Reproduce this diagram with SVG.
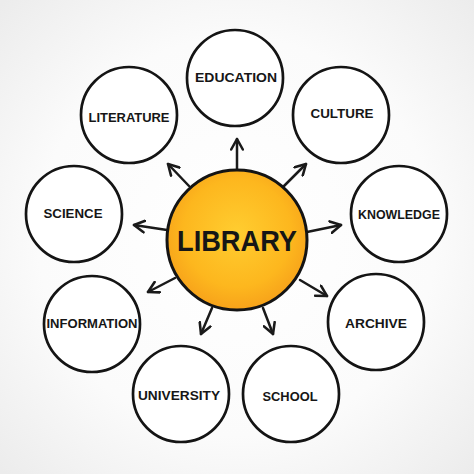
<svg xmlns="http://www.w3.org/2000/svg" width="474" height="474" viewBox="0 0 474 474">
<defs>
<radialGradient id="bg" cx="50%" cy="50%" r="70%">
<stop offset="0" stop-color="#ffffff"/>
<stop offset="0.6" stop-color="#fbfbfb"/>
<stop offset="1" stop-color="#ececec"/>
</radialGradient>
<radialGradient id="orange" cx="50%" cy="45%" r="55%">
<stop offset="0" stop-color="#ffcd30"/>
<stop offset="0.7" stop-color="#fdb71e"/>
<stop offset="1" stop-color="#f7a21a"/>
</radialGradient>
<marker id="arr" viewBox="0 0 12 12" refX="10" refY="6" markerWidth="14" markerHeight="14" markerUnits="userSpaceOnUse" orient="auto">
<polyline points="1,1 10,6 1,11" fill="none" stroke="#1a1a1a" stroke-width="2.2" stroke-linecap="round" stroke-linejoin="round"/>
</marker>
<style>
.node{fill:#ffffff;stroke:#141414;stroke-width:2.7}
.lbl{font-family:"Liberation Sans",Arial,sans-serif;font-weight:bold;font-size:13px;fill:#161616;text-anchor:middle}
.conn line{stroke:#1a1a1a;stroke-width:2.5;stroke-linecap:round;marker-end:url(#arr)}
</style>
</defs>
<rect width="474" height="474" fill="url(#bg)"/>
<g id="connectors" class="conn">
<line x1="237" y1="170" x2="237" y2="139"/>
<line x1="189" y1="186" x2="168" y2="164"/>
<line x1="284" y1="186" x2="306" y2="164"/>
<line x1="167" y1="230" x2="134" y2="225"/>
<line x1="307" y1="232" x2="341" y2="225"/>
<line x1="175" y1="278" x2="148" y2="292"/>
<line x1="300" y1="280" x2="327" y2="296"/>
<line x1="212" y1="308" x2="201" y2="334"/>
<line x1="263" y1="308" x2="273" y2="334"/>
</g>
<g id="library">
<circle cx="237" cy="240" r="70" fill="url(#orange)" stroke="#141414" stroke-width="3"/>
<text x="237" y="251" font-family="'Liberation Sans',Arial,sans-serif" font-weight="bold" font-size="30" fill="#161616" text-anchor="middle" textLength="120" lengthAdjust="spacingAndGlyphs">LIBRARY</text>
</g>
<g id="education">
<circle class="node" cx="235" cy="78" r="48"/>
<text class="lbl" x="236" y="82" textLength="82" lengthAdjust="spacingAndGlyphs">EDUCATION</text>
</g>
<g id="literature">
<circle class="node" cx="129" cy="115" r="48"/>
<text class="lbl" x="129" y="122" textLength="81" lengthAdjust="spacingAndGlyphs">LITERATURE</text>
</g>
<g id="culture">
<circle class="node" cx="341" cy="115" r="48"/>
<text class="lbl" x="342" y="118" textLength="63" lengthAdjust="spacingAndGlyphs">CULTURE</text>
</g>
<g id="science">
<circle class="node" cx="74" cy="214" r="48"/>
<text class="lbl" x="73" y="218" textLength="59" lengthAdjust="spacingAndGlyphs">SCIENCE</text>
</g>
<g id="knowledge">
<circle class="node" cx="399" cy="214" r="48"/>
<text class="lbl" x="399" y="219" textLength="82" lengthAdjust="spacingAndGlyphs">KNOWLEDGE</text>
</g>
<g id="information">
<circle class="node" cx="92" cy="324" r="48"/>
<text class="lbl" x="92" y="328" textLength="91" lengthAdjust="spacingAndGlyphs">INFORMATION</text>
</g>
<g id="archive">
<circle class="node" cx="376" cy="322" r="48"/>
<text class="lbl" x="376" y="328" textLength="62" lengthAdjust="spacingAndGlyphs">ARCHIVE</text>
</g>
<g id="university">
<circle class="node" cx="181" cy="394" r="48"/>
<text class="lbl" x="179" y="400" textLength="82" lengthAdjust="spacingAndGlyphs">UNIVERSITY</text>
</g>
<g id="school">
<circle class="node" cx="291" cy="394" r="48"/>
<text class="lbl" x="290" y="401" textLength="55" lengthAdjust="spacingAndGlyphs">SCHOOL</text>
</g>
</svg>
